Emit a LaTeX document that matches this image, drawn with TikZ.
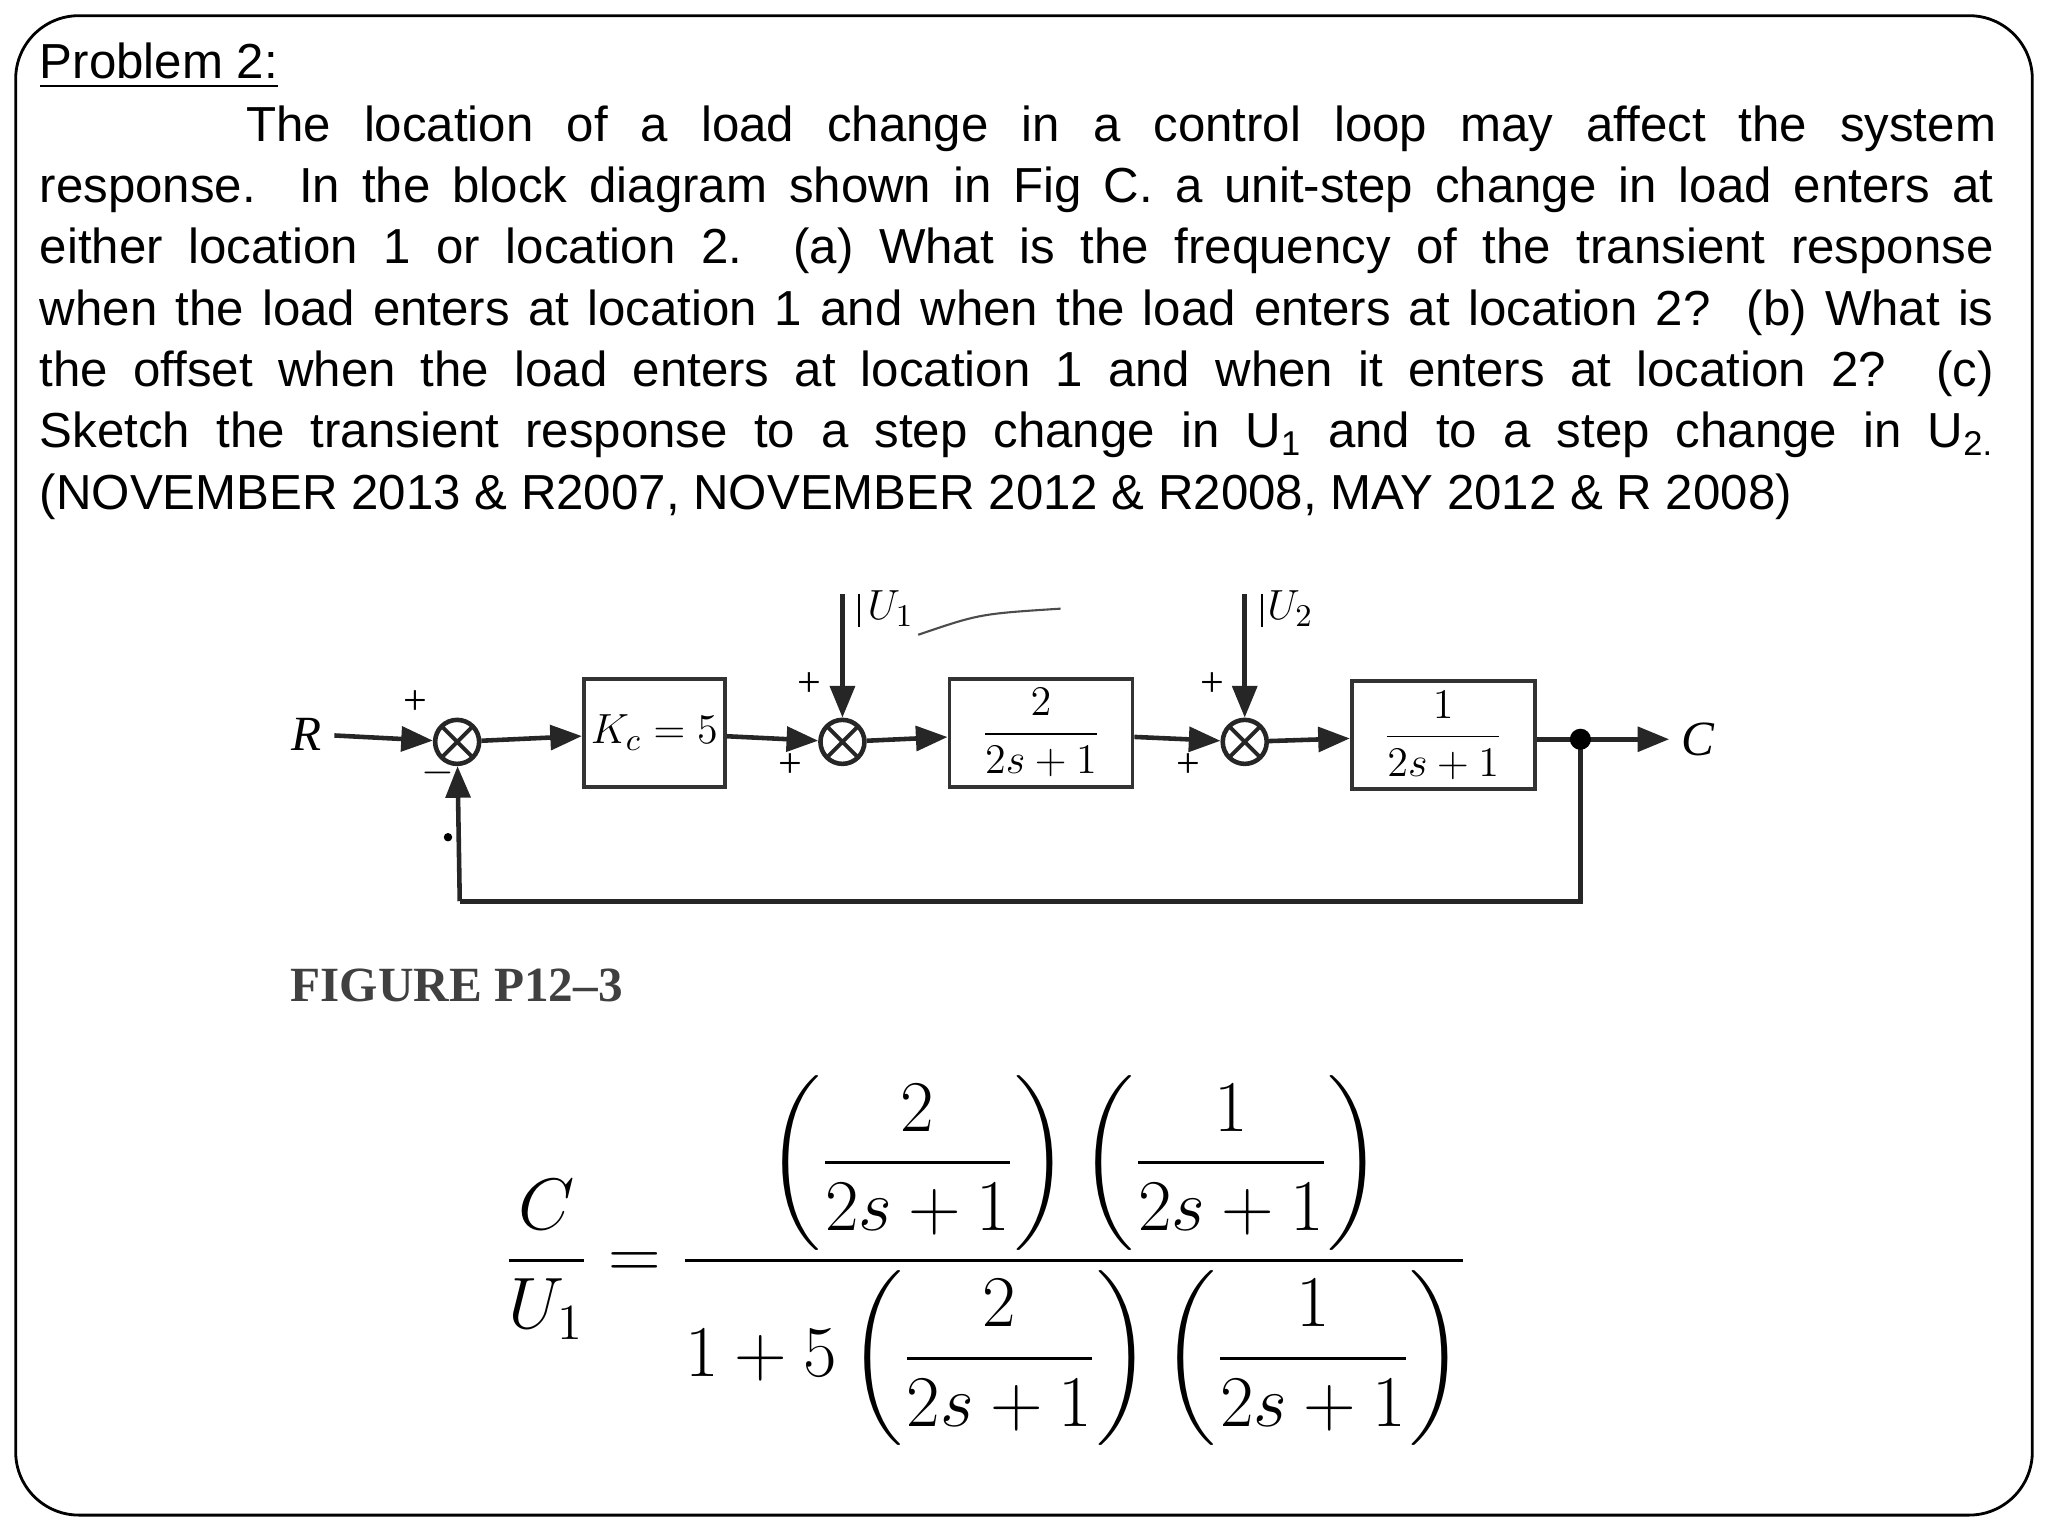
\documentclass[tikz,border=0pt]{standalone}
\usepackage{fontspec}
\usepackage{amsmath}
\setmainfont{Liberation Sans}
\newfontfamily\serifrm{Liberation Serif}
\usetikzlibrary{arrows.meta,positioning}
\tikzset{
  line/.style={line width=1.3pt,draw=black!85},
  sig/.style={line,-{Triangle[length=9pt,width=7pt]}},
  blk/.style={draw=black!80,line width=1.1pt,minimum width=1.4cm,minimum height=1.08cm,inner sep=0pt,font=\fontsize{13}{15}\selectfont},
  sumj/.style={circle,draw=black!85,line width=1.3pt,minimum size=0.44cm,inner sep=0pt,path picture={\draw[line width=1.1pt] (path picture bounding box.north west)--(path picture bounding box.south east) (path picture bounding box.north east)--(path picture bounding box.south west);}},
  sgn/.style={font=\fontsize{12}{12}\selectfont\serifrm,inner sep=0pt},
  txtline/.style={anchor=base west,inner sep=0pt,font=\fontsize{14}{17}\selectfont}
}
\begin{document}
\begin{tikzpicture}[x=0.01306cm,y=-0.01306cm]
\useasboundingbox (0,0) rectangle (1568,1176);
\draw[line width=0.8pt,rounded corners=18pt] (12,12) rectangle (1556,1160);
% problem text
\node[txtline] (title) at (30,60) {\underline{Problem 2:}};
\node[txtline] (l1) at (188,108) {\makebox[17.5cm][s]{The location of a load change in a control loop may affect the system}};
\node[txtline] (l2) at (30,155) {\makebox[19.54cm][s]{response. In the block diagram shown in Fig C. a unit-step change in load enters at}};
\node[txtline] (l3) at (30,202) {\makebox[19.54cm][s]{either location 1 or location 2.\ \ (a) What is the frequency of the transient response}};
\node[txtline] (l4) at (30,249) {\makebox[19.54cm][s]{when the load enters at location 1 and when the load enters at location 2?\ \ (b) What is}};
\node[txtline] (l5) at (30,296) {\makebox[19.54cm][s]{the offset when the load enters at location 1 and when it enters at location 2?\ \ (c)}};
\node[txtline] (l6) at (30,343) {\makebox[19.54cm][s]{Sketch the transient response to a step change in U\textsubscript{1} and to a step change in U\textsubscript{2.}}};
\node[txtline] (l7) at (30,390) {(NOVEMBER 2013 \& R2007, NOVEMBER 2012 \& R2008, MAY 2012 \& R 2008)};
% block diagram
\node[font=\serifrm\itshape\fontsize{14}{14}\selectfont] (R) at (235,562) {R};
\node[sumj] (s1) at (350,568) {};
\node[blk,minimum width=1.41cm] (kc) at (501,561) {\serifrm$K_c = 5$};
\node[sumj] (s2) at (645,568) {};
\node[blk,minimum width=1.83cm] (g1) at (797,561) {\serifrm$\dfrac{2}{2s+1}$};
\node[sumj] (s3) at (953,568) {};
\node[blk,minimum width=1.83cm] (g2) at (1105,563) {\serifrm$\dfrac{1}{2s+1}$};
\coordinate (tk) at (1210,566);
\node[font=\serifrm\itshape\fontsize{14}{14}\selectfont] (C) at (1300,566) {C};
\coordinate (u1top) at (645,455);
\coordinate (u2top) at (953,455);
\coordinate (fb1) at (1210,690);
\coordinate (fb2) at (352,690);
\draw[sig] (R) -- (s1);
\draw[sig] (s1) -- (kc);
\draw[sig] (kc) -- (s2);
\draw[sig] (s2) -- (g1);
\draw[sig] (g1) -- (s3);
\draw[sig] (s3) -- (g2);
\draw[sig] (g2.east |- tk) -- (C);
\draw[sig] (u1top) -- (s2);
\draw[sig] (u2top) -- (s3);
\draw[line] (tk) -- (fb1) -- (fb2);
\draw[sig] (fb2) -- (s1);
\fill (tk) circle (3pt);
\draw[line width=0.6pt] (658,455) -- (658,480) (966,455) -- (966,480);
\node[font=\serifrm\itshape\fontsize{13}{13}\selectfont] (u1) at (682,466) {$U_1$};
\node[font=\serifrm\itshape\fontsize{13}{13}\selectfont] (u2) at (988,466) {$U_2$};
\draw[line width=0.6pt,black!70] (703,486) .. controls (750,470) .. (812,466);
\node[sgn] (p1) at (318,538) {+};
\node[sgn] (m1) at (335,592) {$-$};
\node[sgn] (p2) at (620,524) {+};
\node[sgn] (p3) at (605,586) {+};
\node[sgn] (p4) at (928,524) {+};
\node[sgn] (p5) at (910,586) {+};
\fill (343,641) circle (1.2pt);
\node[anchor=base west,inner sep=0pt,font=\serifrm\bfseries\fontsize{14}{14}\selectfont,text=black!75] (fig) at (222,767) {FIGURE P12–3};
% equation
\node[inner sep=0pt,font=\serifrm\fontsize{21}{25}\selectfont] (eq) at (755,965)
  {$\dfrac{C}{U_1}=\dfrac{\left(\dfrac{2}{2s+1}\right)\left(\dfrac{1}{2s+1}\right)}{1+5\left(\dfrac{2}{2s+1}\right)\left(\dfrac{1}{2s+1}\right)}$};
\end{tikzpicture}
\end{document}
